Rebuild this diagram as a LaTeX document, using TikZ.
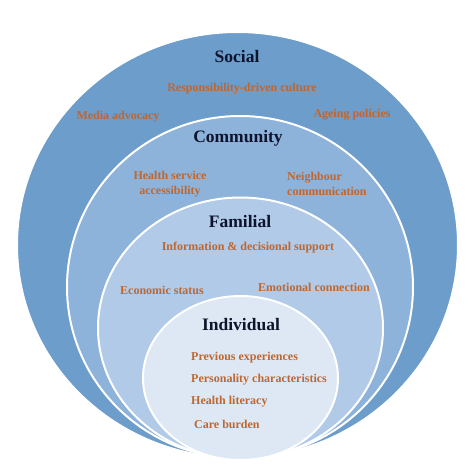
\documentclass[tikz,border=0pt]{standalone}
\usepackage{fontspec}
\setmainfont{Liberation Serif}
\usetikzlibrary{shapes.geometric}
\definecolor{socialblue}{RGB}{108,157,203}
\definecolor{commblue}{RGB}{141,179,219}
\definecolor{famblue}{RGB}{176,202,232}
\definecolor{indblue}{RGB}{221,232,244}
\definecolor{rust}{RGB}{193,102,45}
\definecolor{ink}{RGB}{15,20,45}

\begin{document}
\begin{tikzpicture}[x=1pt,y=-1pt,
    level/.style={font=\fontsize{17.5}{20}\selectfont\bfseries,text=ink,inner sep=0pt},
    factor/.style={font=\fontsize{12}{15}\selectfont\bfseries,text=rust,inner sep=0pt}]
    \useasboundingbox[fill=white] (0,0) rectangle (474,474);
    % nested layers, outer to inner
    \foreach \n/\x/\y/\rx/\ry/\c in {
      social/237.5/245/220.5/213/socialblue,
      community/240/287/173/171/commblue,
      familial/240.5/328/142.5/130.5/famblue,
      individual/240.5/378/97.5/82/indblue}
    {
      \node[ellipse,draw=white,line width=2pt,fill=\c,minimum width=2*\rx,minimum height=2*\ry,inner sep=0pt] (\n) at (\x,\y) {};
    }
    % layer titles
    \node[level] (socialtitle) at (237,57) {Social};
    \node[level] (communitytitle) at (238,138) {Community};
    \node[level] (familialtitle) at (240,222) {Familial};
    \node[level] (individualtitle) at (241,325) {Individual};
    % social factors
    \node[factor] (culture) at (242,89) {Responsibility-driven culture};
    \node[factor] (media) at (118,117) {Media advocacy};
    \node[factor] (ageing) at (352,115) {Ageing policies};
    % community factors
    \node[factor,align=center] (access) at (170,184.5) {Health service\\accessibility};
    \node[factor,align=left,anchor=west] (neighbour) at (287,184) {Neighbour\\communication};
    % familial factors
    \node[factor] (info) at (248,248) {Information \& decisional support};
    \node[factor] (economic) at (162,290) {Economic status};
    \node[factor] (emotional) at (314,287) {Emotional connection};
    % individual factors
    \node[factor,anchor=west] (previous) at (191,358) {Previous experiences};
    \node[factor,anchor=west] (personality) at (191,380) {Personality characteristics};
    \node[factor,anchor=west] (literacy) at (191,402) {Health literacy};
    \node[factor,anchor=west] (burden) at (194,424) {Care burden};
  \end{tikzpicture}
\end{document}
